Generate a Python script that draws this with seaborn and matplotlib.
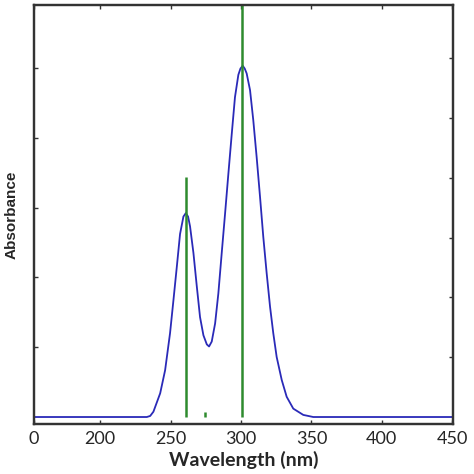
import numpy as np
import pandas as pd
import seaborn as sns
import matplotlib.pyplot as plt

# absorbance trace (wavelength nm, absorbance a.u.)
wavelength = [153, 200, 233.1, 235.5, 237.8, 242.6, 246.1, 249.6, 252.0, 254.4,
              256.7, 259.1, 260.8, 262.4, 263.8, 266.2, 268.6, 270.9, 273.3, 275.7,
              277.3, 279.2, 281.6, 283.9, 286.3, 288.7, 291.0, 293.4, 295.7, 298.1,
              299.6, 301.2, 302.6, 304.0, 306.4, 308.7, 311.1, 313.5, 315.8, 318.2,
              320.6, 322.9, 325.3, 328.9, 332.4, 337.1, 344.2, 351.3, 400, 450]
absorbance = [0.0, 0.0, 0.0, 0.015, 0.076, 0.34, 0.67, 1.20, 1.67, 2.15,
              2.62, 2.87, 2.92, 2.87, 2.73, 2.35, 1.87, 1.43, 1.17, 1.04,
              1.01, 1.08, 1.34, 1.77, 2.35, 2.92, 3.48, 4.05, 4.58, 4.90,
              4.99, 5.03, 4.99, 4.92, 4.68, 4.25, 3.72, 3.15, 2.58, 2.06,
              1.58, 1.20, 0.86, 0.53, 0.29, 0.12, 0.03, 0.0, 0.0, 0.0]

# calculated transitions (stick spectrum)
stick_pos = [261, 274.5, 301]
stick_height = [3.44, 0.07, 7.0]

xtick_pos = [153, 200, 250, 300, 350, 400, 450]
xtick_labels = ["0", "200", "250", "300", "350", "400", "450"]

sns.set_style("ticks")
plt.rcParams['font.family'] = ['Lato', 'DejaVu Sans']

fig = plt.figure(figsize=(4.74, 4.74), dpi=100)
ax = fig.add_axes([0.0717, 0.1055, 0.884, 0.884])

df = pd.DataFrame({"wl": wavelength, "abs": absorbance})
sns.lineplot(data=df, x="wl", y="abs", ax=ax, color="#2a2ab8", linewidth=1.3, sort=False)
ax.vlines(stick_pos, 0, stick_height, color="#2e8b2e", linewidth=1.8)

ax.set_xlim(153, 450.5)
ax.set_ylim(-0.1, 5.9)
ax.set_xticks(xtick_pos)
ax.set_xticklabels(xtick_labels, fontsize=13)
ax.set_yticks([1, 2, 3, 4, 5])
ax.set_yticklabels([])
ax.tick_params(direction="in", length=3, width=1, color="#333333", top=True,
               right=False, pad=5)
ax.set_xlabel("Wavelength (nm)", fontsize=14, fontweight="bold", labelpad=3)
ax.set_ylabel("Absorbance", fontsize=11, fontweight="bold", labelpad=6,
              family=['Liberation Sans', 'DejaVu Sans'])

ax2 = ax.twinx()
ax2.set_ylim(-0.117, 6.89)
ax2.set_yticks([1, 2, 3, 4, 5, 6])
ax2.set_yticklabels([])
ax2.tick_params(direction="in", length=3, width=1, color="#333333")

for a in (ax, ax2):
    for s in a.spines.values():
        s.set_visible(True)
        s.set_color("#333333")
        s.set_linewidth(1.6)

fig.savefig("out.png", dpi=100)
